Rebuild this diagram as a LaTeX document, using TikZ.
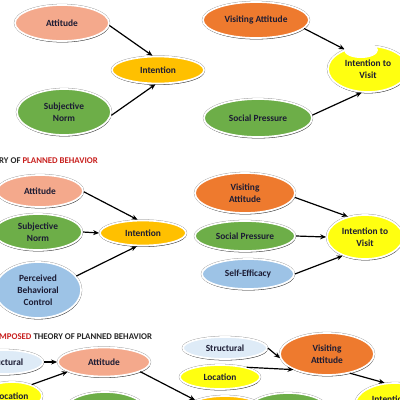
\documentclass[tikz,border=0pt]{standalone}
\usepackage{fontspec}
\setmainfont{Carlito}
\usetikzlibrary{shapes.geometric,arrows.meta,shadows}
\definecolor{salmon}{HTML}{F4A98C}
\definecolor{gold}{HTML}{FFC000}
\definecolor{grn}{HTML}{6DAE48}
\definecolor{orng}{HTML}{EE7A2E}
\definecolor{yel}{HTML}{FFFF10}
\definecolor{lblue}{HTML}{9DC3E6}
\definecolor{pblue}{HTML}{DEEBF7}
\definecolor{tred}{HTML}{C8201E}
\definecolor{txt}{HTML}{1C1C34}
\tikzset{
  el/.style={ellipse, inner sep=0pt, align=center, text=txt,
    font=\bfseries\fontsize{9.4}{12}\selectfont,
    drop shadow={shadow xshift=0.5pt, shadow yshift=-1.4pt, fill=black!85, opacity=1},
    preaction={draw=black!45, line width=2.3pt},
    draw=white, line width=1.7pt},
  arr/.style={-{Stealth[length=6pt,width=5pt]}, line width=1.2pt, black},
  ttl/.style={anchor=base west, inner sep=0pt, font=\bfseries\fontsize{8.8}{10}\selectfont, text=black!85}
}
\begin{document}
\begin{tikzpicture}[x=1pt,y=-1pt]
\useasboundingbox (0,0) rectangle (400,400);
\clip (0,0) rectangle (400,400);

% ---- top left
\node[el, fill=salmon, minimum width=94pt, minimum height=36pt] (A1) at (62,23) {Attitude};
\node[el, fill=gold, minimum width=92pt, minimum height=27pt] (I1) at (158,70) {Intention};
\node[el, fill=grn, minimum width=94pt, minimum height=46pt] (N1) at (64,112) {Subjective\\Norm};
\draw[arr] (A1.-3) -- (I1.111);
\draw[arr] (N1.-4) -- (I1.-100);

% ---- top right
\node[el, fill=orng, minimum width=106pt, minimum height=36pt] (VA1) at (256,20) {Visiting Attitude};
\node[el, fill=yel, minimum width=80pt, minimum height=46pt] (IV1) at (368,69) {Intention to\\Visit};
\node[el, fill=grn, minimum width=108pt, minimum height=38pt] (SP1) at (258,118) {Social Pressure};
\draw[arr] (VA1.-10) -- (IV1.140);
\draw[arr] (SP1.3) -- (IV1.-105);
\fill[white] (361,50) ellipse [x radius=17pt, y radius=8pt];

% ---- title 1
\node[ttl] (T1) at (-1,163) {RY OF \textcolor{tred}{PLANNED BEHAVIOR}};

% ---- middle left
\node[el, fill=salmon, minimum width=86pt, minimum height=32pt] (A2) at (40,191) {Attitude};
\node[el, fill=grn, minimum width=88pt, minimum height=36pt] (N2) at (38,232) {Subjective\\Norm};
\node[el, fill=lblue, minimum width=86pt, minimum height=56pt] (P2) at (38,290) {Perceived\\Behavioral\\Control};
\node[el, fill=gold, minimum width=86pt, minimum height=25pt] (I2) at (143,233) {Intention};
\draw[arr] (A2.-1) -- (I2.112);
\draw[arr] (N2.east) -- (I2.west);
\draw[arr] (P2.20) -- (I2.-115);

% ---- middle right
\node[el, fill=orng, minimum width=100pt, minimum height=40pt] (VA2) at (245,193) {Visiting\\Attitude};
\node[el, fill=grn, minimum width=100pt, minimum height=30pt] (SP2) at (245,236) {Social Pressure};
\node[el, fill=lblue, minimum width=92pt, minimum height=30pt] (SE2) at (248,274) {Self-Efficacy};
\node[el, fill=yel, minimum width=76pt, minimum height=44pt] (IV2) at (365,237) {Intention to\\Visit};
\draw[arr] (VA2.-5) -- (IV2.130);
\draw[arr] (SP2.east) -- (IV2.west);
\draw[arr] (SE2.east) -- (IV2.-140);

% ---- title 2
\node[ttl] (T2) at (-1,339) {\textcolor{tred}{MPOSED} THEORY OF PLANNED BEHAVIOR};

% ---- bottom left
\node[el, fill=pblue, minimum width=78pt, minimum height=24pt] (ST3) at (4,362) {Structural};
\node[el, fill=yel, minimum width=60pt, minimum height=28pt] (LO3) at (12,396) {Location};
\node[el, fill=salmon, minimum width=92pt, minimum height=29pt] (A3) at (104,362) {Attitude};
\node[el, fill=grn, minimum width=80pt, minimum height=36pt] (N3) at (105,410) {Subjective};
\node[el, fill=gold, minimum width=80pt, minimum height=30pt] (I3) at (225,411) {};
\draw[arr] (ST3.east) -- (A3.west);
\draw[arr] (LO3.30) -- (A3.195);
\draw[arr] (A3.-15) -- (I3.160);

% ---- bottom right
\node[el, fill=pblue, minimum width=84pt, minimum height=22pt] (ST4) at (225,348) {Structural};
\node[el, fill=yel, minimum width=80pt, minimum height=24pt] (LO4) at (220,377) {Location};
\node[el, fill=orng, minimum width=94pt, minimum height=42pt] (VA4) at (327,354) {Visiting\\Attitude};
\node[el, fill=grn, minimum width=80pt, minimum height=34pt] (N4) at (288,410) {Subjective};
\node[el, fill=yel, minimum width=80pt, minimum height=44pt] (IV4) at (395,405) {Intention to\\Visit};
\draw[arr] (ST4.east) -- (VA4.185);
\draw[arr] (LO4.20) -- (VA4.205);
\draw[arr] (VA4.-40) -- (IV4.115);
\end{tikzpicture}
\end{document}
